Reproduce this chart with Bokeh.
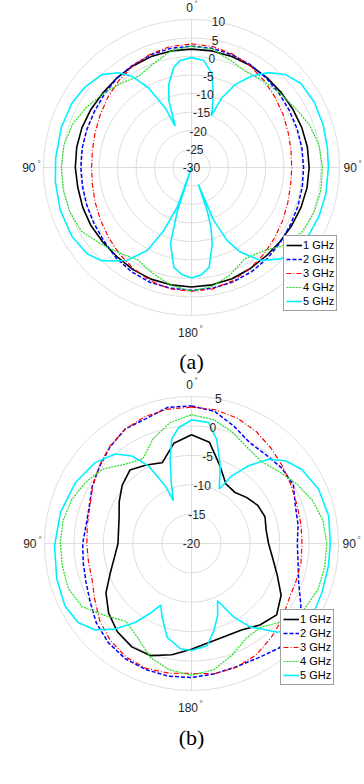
import math
from bokeh.plotting import figure
from bokeh.models import Range1d, Legend, LegendItem
from bokeh.layouts import column
from bokeh.embed import file_html
from bokeh.resources import INLINE
from bokeh.core.properties import value

# ---------------- data ----------------
SERIES_NAMES = ["1 GHz", "2 GHz", "3 GHz", "4 GHz", "5 GHz"]
ANGLES_10 = list(range(0, 360, 10))          # degrees, clockwise from top (0°)
THETA_TICKS = [0, 90, 180, 270]
THETA_TICK_LABELS = ["0", "90", "180", "90"]
PANEL_LABELS = ["(a)", "(b)"]

# (a) radial ticks (dB) and patterns
A_TICKS = [-30, -25, -20, -15, -10, -5, 0, 5, 10]
A_1GHZ = [2.0, 2.0, 1.9, 1.8, 1.7, 1.6, 1.6, 1.7, 1.8, 1.8,
          1.7, 1.5, 1.3, 1.2, 1.3, 1.6, 2.0, 2.2, 2.3, 2.2,
          2.1, 1.8, 1.4, 1.3, 1.4, 1.3, 1.2, 1.4, 1.5, 1.5,
          1.4, 1.3, 1.5, 1.7, 1.9, 2.0]
A_2GHZ = [2.8, 2.7, 2.4, 2.0, 1.5, 1.0, 0.6, 0.4, 0.3, 0.3,
          0.4, 0.6, 0.9, 1.4, 2.0, 2.5, 2.9, 3.1, 3.2, 3.1,
          3.0, 2.5, 1.8, 0.9, 0.4, 0.1, -0.1, -0.1, 0.0, 0.1,
          0.3, 0.8, 1.4, 1.9, 2.4, 2.7]
A_3GHZ = [3.4, 3.2, 2.6, 1.7, 0.6, -0.5, -1.4, -2.2, -2.7, -2.9,
          -2.8, -2.3, -1.5, -0.6, 0.5, 1.6, 2.6, 3.3, 3.5, 3.3,
          2.6, 1.5, 0.4, -0.7, -1.6, -2.3, -2.8, -3.0, -2.8, -2.3,
          -1.5, -0.5, 0.6, 1.7, 2.6, 3.2]
A_4GHZ = [2.8, 2.5, 0.8, -0.2, 0.4, 1.2, 2.3, 3.9, 5.0, 5.4,
          5.5, 5.3, 4.6, 2.7, -0.4, -1.4, 0.8, 2.6, 3.4, 2.3,
          0.5, -1.1, 0.2, 2.1, 4.4, 5.0, 5.2, 5.2, 5.0, 4.2,
          2.7, 1.1, -0.3, -1.5, -0.1, 2.0]
A_5GHZ_THETA = [-180, -175, -170, -164.6, -162, -161, -160.2, -156.3, -151.9, -145.3,
                -140, -136, -129.6, -120, -108, -96, -86, -73, -62, -53,
                -44, -37.6, -33.2, -28.4, -23.8, -21.5, -18.7, -15.2, -10, -6,
                0, 6.6, 12.4, 16.4, 19, 21, 23.5, 27.8, 33.4, 39,
                45.2, 52.5, 62, 72, 82, 90, 101, 111, 119, 128,
                135.7, 143.4, 150, 154, 157.2, 158, 160, 162, 164.8, 170,
                175, 180]
A_5GHZ = [-0.2, -0.9, -2.6, -8.6, -17.5, -30.0, -18.6, -11.4, -4.6, 0.5,
          3.0, 5.0, 6.6, 7.3, 7.3, 7.0, 6.8, 6.8, 6.7, 6.1,
          4.9, 2.3, -0.5, -5.5, -12.4, -18.0, -10.9, -6.6, -2.5, -0.9,
          -0.3, -0.9, -4.1, -9.2, -12.5, -15.0, -9.5, -4.6, -0.4, 3.0,
          5.7, 7.3, 7.6, 7.4, 7.1, 7.0, 7.0, 6.9, 6.6, 6.0,
          4.5, 1.3, -3.6, -8.0, -14.5, -25.0, -17.6, -13.0, -8.6, -2.6,
          -0.8, -0.2]

# (b) radial ticks (dB) and patterns
B_TICKS = [-20, -15, -10, -5, 0, 5]
B_1GHZ = [-1.5, -2.5, -5.9, -8.3, -8.6, -7.8, -7.0, -6.7, -7.1, -6.9,
          -6.0, -4.5, -2.4, -1.1, -1.9, -3.0, -3.2, -2.9, -2.0, -0.8,
          0.3, 0.3, -0.4, -1.6, -3.2, -5.3, -6.7, -7.5, -7.4, -6.9,
          -5.8, -4.6, -3.7, -4.6, -5.4, -2.7]
B_2GHZ = [3.4, 2.8, 1.2, -0.2, -0.3, 0.0, 0.0, -1.2, -1.6, -2.0,
          -1.6, -0.6, 1.5, 2.9, 3.2, 2.5, 2.3, 2.5, 2.8, 2.9,
          2.8, 2.6, 2.0, 1.1, -0.1, -0.9, -1.3, -1.5, -1.8, -1.5,
          -0.5, 0.4, 1.5, 2.5, 2.6, 3.5]
B_3GHZ = [3.2, 3.1, 2.7, 2.0, 1.1, 0.3, -0.4, -0.9, -1.1, -1.2,
          -1.1, -1.1, -0.9, 0.1, 1.0, 1.9, 2.4, 2.5, 2.1, 2.4,
          2.6, 2.3, 1.5, 0.4, -1.0, -2.0, -2.2, -2.2, -2.0, -1.6,
          -0.6, 0.5, 1.6, 2.5, 3.0, 3.2]
B_4GHZ = [1.9, 1.4, 0.2, -1.1, -1.7, -0.8, 0.5, 1.8, 2.7, 3.0,
          3.0, 2.9, 2.2, 0.6, -1.5, -1.4, 0.2, 1.8, 2.4, 1.8,
          0.6, -1.6, -2.7, -0.9, 1.5, 2.3, 2.3, 2.3, 2.2, 1.7,
          0.8, -0.3, -2.4, -3.4, -1.0, 0.9]
B_5GHZ_THETA = [-180, -174, -165.5, -158.3, -153.4, -150, -144.5, -138.3, -131.9, -124.9,
                -116.3, -104.8, -91, -76.7, -62.3, -50, -40.5, -34.2, -29, -24.5,
                -22.9, -18.4, -14.2, -10.7, -6.4, 0, 8, 13.6, 20.3, 27,
                30.8, 36.3, 42.4, 48.6, 56, 66.8, 78.6, 90, 99.2, 110.6,
                118, 126, 131, 136, 140.6, 144.8, 150, 155.5, 160, 165.6,
                171.3, 180]
B_5GHZ = [-1.8, -2.0, -3.5, -6.5, -8.3, -6.5, -3.5, -0.5, 2.0, 3.5,
          4.0, 3.7, 3.3, 2.9, 2.3, 1.4, 0.0, -2.0, -4.9, -9.2,
          -12.1, -9.1, -5.2, -1.9, -0.2, 1.0, 0.8, -1.8, -5.9, -9.6,
          -6.6, -3.6, -0.6, 1.3, 2.6, 3.5, 3.8, 3.6, 3.6, 3.7,
          3.8, 3.2, 2.3, 1.0, -1.2, -2.6, -5.5, -9.3, -7.0, -4.7,
          -2.4, -1.8]

# ---------------- styling / layout ----------------
PAGE_W = 364
FONT = "Liberation Sans"
SERIF = "Liberation Serif"
TXT = "#262626"
GRID = "#dddddd"
STYLES = [
    dict(line_color="#000000", line_width=1.6),
    dict(line_color="#0000ff", line_width=1.5, line_dash="4 2"),
    dict(line_color="#ff0000", line_width=1.2, line_dash="5 2 1 2"),
    dict(line_color="#22dd22", line_width=1.2, line_dash="2 1"),
    dict(line_color="#00f0ff", line_width=1.6),
]


def polar_xy(theta_deg, db, rmin):
    xs, ys = [], []
    for t, v in zip(theta_deg, db):
        r = max(v - rmin, 0.0)
        a = math.radians(t)
        xs.append(r * math.sin(a))
        ys.append(r * math.cos(a))
    return xs, ys


def closed(theta, vals):
    return list(theta) + [theta[0] + 360], list(vals) + [vals[0]]


def make_panel(H, cx, cy, scale, ticks, curves, legend_pos, tag, tag_dy):
    rmin, rmax = ticks[0], ticks[-1]
    R = rmax - rmin
    px = lambda v: v / scale
    p = figure(width=PAGE_W, height=H, output_backend="svg", toolbar_location=None,
               x_range=Range1d(-px(cx), px(PAGE_W - cx)),
               y_range=Range1d(-px(H - cy), px(cy)),
               x_axis_location=None, y_axis_location=None, min_border=0,
               outline_line_color=None, background_fill_color="white",
               border_fill_color="white")
    p.grid.visible = False

    # grid rings and spokes
    rings = [t - rmin for t in ticks[1:]]
    p.circle(x=0, y=0, radius=rings, fill_color=None, line_color=GRID, line_width=1)
    p.segment(x0=[0] * 4, y0=[0] * 4,
              x1=[R * math.sin(math.radians(t)) for t in THETA_TICKS],
              y1=[R * math.cos(math.radians(t)) for t in THETA_TICKS],
              line_color=GRID, line_width=1)

    # curves
    renderers = []
    for (th, vals), st in zip(curves, STYLES):
        xs, ys = polar_xy(th, vals, rmin)
        renderers.append(p.line(xs, ys, **st))

    # radial tick labels
    la = math.radians(10.5)
    p.text(x=[(t - rmin) * math.sin(la) for t in ticks],
           y=[(t - rmin) * math.cos(la) for t in ticks],
           text=[str(t) for t in ticks], text_font=value(FONT), text_font_size="12px",
           text_color=TXT, text_align="center", text_baseline="middle")

    # angular labels
    Rp = R * scale
    lab_x = [px(-2), px(Rp + 4), px(-3.5), px(-(Rp + 8))]
    lab_y = [px(Rp + 12), 0, px(-(Rp + 17)), 0]
    aligns = ["center", "left", "center", "right"]
    for t, x, y, al in zip(THETA_TICK_LABELS, lab_x, lab_y, aligns):
        p.text(x=[x], y=[y], text=[t], text_font=value(FONT), text_font_size="12px",
               text_color=TXT, text_align=al, text_baseline="middle")
    deg_x = [px(3), px(Rp + 19), px(8), px(-(Rp + 6))]
    deg_y = [px(Rp + 16), px(4), px(-(Rp + 13)), px(4)]
    p.text(x=deg_x, y=deg_y, text=["°"] * 4, text_font=value(FONT), text_font_size="8px",
           text_color=TXT, text_align="left", text_baseline="middle")

    # panel label
    p.text(x=[0], y=[px(-tag_dy)], text=[tag],
           text_font=value(SERIF), text_font_size="22px", text_color="black",
           text_align="center", text_baseline="middle")

    legend = Legend(items=[LegendItem(label=n, renderers=[r]) for n, r in zip(SERIES_NAMES, renderers)],
                    location=legend_pos, orientation="vertical",
                    label_text_font=FONT, label_text_font_size="11px", label_text_color="black",
                    glyph_width=16, glyph_height=14, label_height=14, label_standoff=1,
                    spacing=0, padding=2, margin=0,
                    border_line_color="#404040", border_line_width=1,
                    background_fill_color="white", background_fill_alpha=1.0)
    p.add_layout(legend)
    return p


A_H = 376
B_H = 784 - A_H
curves_a = [closed(ANGLES_10, A_1GHZ), closed(ANGLES_10, A_2GHZ), closed(ANGLES_10, A_3GHZ),
            closed(ANGLES_10, A_4GHZ), (A_5GHZ_THETA, A_5GHZ)]
curves_b = [closed(ANGLES_10, B_1GHZ), closed(ANGLES_10, B_2GHZ), closed(ANGLES_10, B_3GHZ),
            closed(ANGLES_10, B_4GHZ), (B_5GHZ_THETA, B_5GHZ)]

pa = make_panel(A_H, 191, 167, 3.7, A_TICKS, curves_a, (283, A_H - 311), PANEL_LABELS[0], 194)
pb = make_panel(B_H, 191, 543 - A_H, 5.88, B_TICKS, curves_b, (280, 784 - 685), PANEL_LABELS[1], 194)

layout = column(pa, pb, spacing=0)

open("out.html", "w").write(file_html(layout, INLINE))
